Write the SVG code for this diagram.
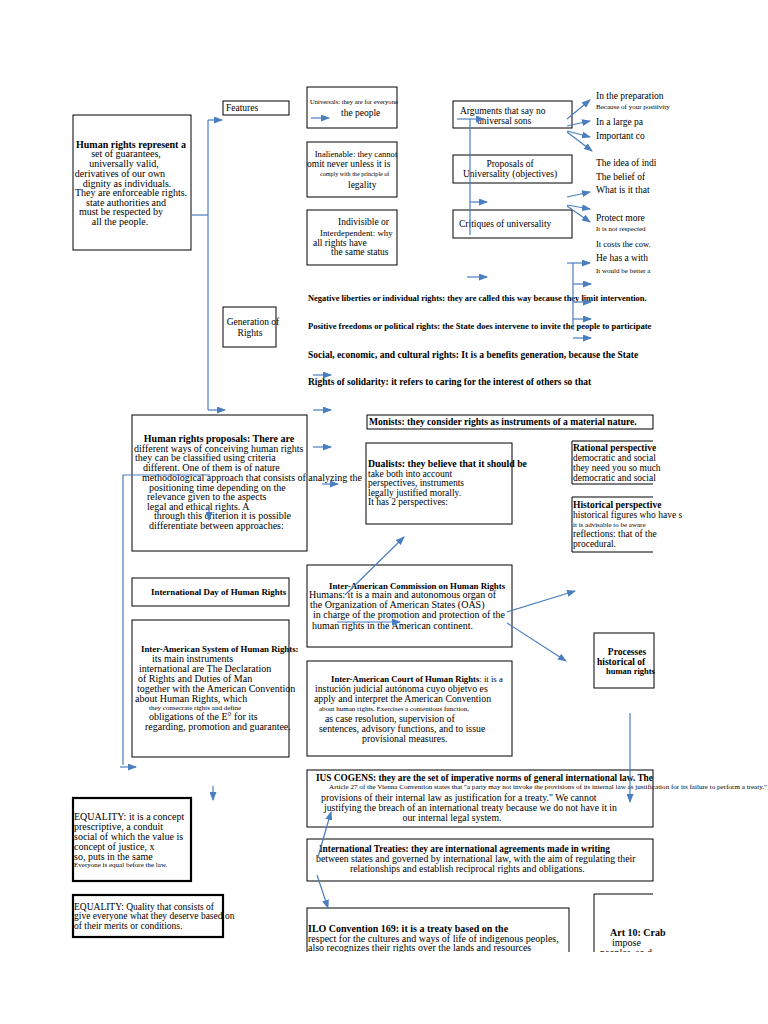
<svg xmlns="http://www.w3.org/2000/svg" width="768" height="1024" viewBox="0 0 768 1024">
<defs>
<marker id="ah" markerWidth="9" markerHeight="7" refX="8" refY="3.5" orient="auto" markerUnits="userSpaceOnUse">
<path d="M0,0 L9,3.5 L0,7 z" fill="#4a7ebf"/>
</marker>
<clipPath id="page"><rect x="0" y="0" width="768" height="952"/></clipPath>
</defs>
<style>
text{font-family:"Liberation Serif","Times New Roman",serif;fill:#000;font-size:9.5px}
.L text{font-size:10px}
.b{font-weight:bold}
.s{font-size:7px}
.L .s{font-size:7px}
.xs{font-size:5.5px}
.m{text-anchor:middle}
.box{fill:#fff;stroke:#000;stroke-width:1}
.thick{fill:#fff;stroke:#000;stroke-width:2.2}
.c{stroke:#4a7ebf;stroke-width:1.2;fill:none}
.a{stroke:#4a7ebf;stroke-width:1.2;fill:none;marker-end:url(#ah)}
</style>
<rect width="768" height="1024" fill="#fff"/>

<g id="n-main" class="L">
<rect class="box" x="73" y="115" width="118" height="135"/>
<text class="b m" x="131" y="148">Human rights represent a</text>
<text class="m" x="126" y="157">set of guarantees,</text>
<text class="m" x="124" y="167">universally valid,</text>
<text class="m" x="120" y="177">derivatives of our own</text>
<text class="m" x="127" y="187">dignity as individuals.</text>
<text class="m" x="131" y="196">They are enforceable rights.</text>
<text class="m" x="126" y="206">state authorities and</text>
<text class="m" x="121" y="215">must be respected by</text>
<text class="m" x="120" y="225">all the people.</text>
</g>

<g id="n-features">
<rect class="box" x="223" y="101" width="66" height="14"/>
<text x="226" y="111">Features</text>
</g>

<g id="n-universals">
<rect class="box" x="307" y="87" width="90" height="41"/>
<text style="font-size:6.6px" x="310" y="104">Universals: they are for everyone</text>
<text x="341" y="116">the people</text>
</g>

<g id="n-inalienable">
<rect class="box" x="307" y="142" width="90" height="55"/>
<text class="m" style="font-size:8.6px" x="356" y="157">Inalienable: they cannot</text>
<text x="307" y="167">omit never unless it is</text>
<text style="font-size:6.1px" x="320" y="176">comply with the principle of</text>
<text x="348" y="188">legality</text>
</g>

<g id="n-indivisible">
<rect class="box" x="307" y="210" width="90" height="55"/>
<text x="338" y="225">Indivisible or</text>
<text style="font-size:8.8px" x="320" y="236">Interdependent: why</text>
<text x="313" y="246">all rights have</text>
<text x="331" y="255">the same status</text>
</g>

<g id="n-arguments">
<rect class="box" x="453" y="101" width="119" height="27"/>
<text x="460" y="114">Arguments that say no</text>
<text x="477" y="124">universal sons</text>
</g>

<g id="n-proposals-univ">
<rect class="box" x="453" y="155" width="119" height="28"/>
<text class="m" x="510" y="167">Proposals of</text>
<text class="m" x="510" y="177">Universality (objectives)</text>
</g>

<g id="n-critiques">
<rect class="box" x="453" y="210" width="119" height="28"/>
<text x="459" y="227">Critiques of universality</text>
</g>

<g id="n-right-texts">
<text x="596" y="99">In the preparation</text>
<text class="s" x="596" y="109">Because of your positivity</text>
<text x="596" y="125">In a large pa</text>
<text x="596" y="139">Important co</text>
<text x="596" y="166">The idea of indi</text>
<text x="596" y="180">The belief of</text>
<text x="596" y="193">What is it that</text>
<text x="596" y="221">Protect more</text>
<text class="s" x="596" y="231">It is not respected</text>
<text style="font-size:8.5px" x="596" y="247">It costs the cow.</text>
<text x="596" y="261">He has a with</text>
<text class="s" x="596" y="273">It would be better a</text>
</g>

<g id="n-generation">
<rect class="box" x="223" y="307" width="53" height="40"/>
<text class="m" x="253" y="325">Generation of</text>
<text class="m" x="250" y="336">Rights</text>
</g>

<g id="n-generation-texts">
<text class="b" style="font-size:8.45px" x="308" y="301">Negative liberties or individual rights: they are called this way because they limit intervention.</text>
<text class="b" style="font-size:8.55px" x="308" y="329">Positive freedoms or political rights: the State does intervene to invite the people to participate</text>
<text class="b" style="font-size:9.5px" x="308" y="358">Social, economic, and cultural rights: It is a benefits generation, because the State</text>
<text class="b" style="font-size:9.5px" x="308" y="385">Rights of solidarity: it refers to caring for the interest of others so that</text>
</g>

<g id="n-hr-proposals" class="L">
<rect class="box" x="132" y="415" width="175" height="136"/>
<text class="b m" x="219" y="442">Human rights proposals: There are</text>
<text x="134" y="452">different ways of conceiving human rights</text>
<text x="135" y="461">they can be classified using criteria</text>
<text x="143" y="471">different. One of them is of nature</text>
<text x="142" y="481">methodological approach that consists of analyzing the</text>
<text x="149" y="491">positioning time depending on the</text>
<text x="147" y="500">relevance given to the aspects</text>
<text x="147" y="510">legal and ethical rights. A</text>
<text x="154" y="519">through this criterion it is possible</text>
<text x="149" y="529">differentiate between approaches:</text>
</g>

<g id="n-monists">
<rect class="box" x="367" y="415" width="286" height="14"/>
<text class="b" style="font-size:9.6px" x="369" y="425">Monists: they consider rights as instruments of a material nature.</text>
</g>

<g id="n-dualists">
<rect class="box" x="366" y="443" width="146" height="81"/>
<text class="b" style="font-size:9.8px" x="368" y="467">Dualists: they believe that it should be</text>
<text x="368" y="477">take both into account</text>
<text x="368" y="486">perspectives, instruments</text>
<text x="368" y="496">legally justified morally.</text>
<text x="368" y="505">It has 2 perspectives:</text>
</g>

<g id="n-rational">
<path class="box" d="M653,441 H572 V484 H653"/>
<text class="b" x="573" y="451">Rational perspective</text>
<text x="573" y="461">democratic and social</text>
<text x="573" y="471">they need you so much</text>
<text x="573" y="481">democratic and social</text>
</g>

<g id="n-historical">
<path class="box" d="M653,497 H572 V552 H653"/>
<text class="b" x="573" y="508">Historical perspective</text>
<text x="573" y="518">historical figures who have s</text>
<text class="s" x="573" y="527">it is advisable to be aware</text>
<text x="573" y="537">reflections: that of the</text>
<text x="573" y="547">procedural.</text>
</g>

<g id="n-intl-day">
<rect class="box" x="132" y="578" width="157" height="28"/>
<text class="b" style="font-size:8.9px" x="151" y="595">International Day of Human Rights</text>
</g>

<g id="n-ia-system" class="L">
<rect class="box" x="132" y="620" width="157" height="137"/>
<text class="b" style="font-size:8.8px" x="141" y="652">Inter-American System of Human Rights:</text>
<text x="152" y="662">its main instruments</text>
<text x="139" y="672">international are The Declaration</text>
<text x="138" y="682">of Rights and Duties of Man</text>
<text x="137" y="692">together with the American Convention</text>
<text x="135" y="702">about Human Rights, which</text>
<text class="s" x="149" y="710">they consecrate rights and define</text>
<text x="149" y="720">obligations of the E° for its</text>
<text x="145" y="730">regarding, promotion and guarantee.</text>
</g>

<g id="n-commission" class="L">
<rect class="box" x="307" y="565" width="205" height="82"/>
<text class="b" style="font-size:8.8px" x="329" y="589">Inter-American Commission on Human Rights</text>
<text x="309" y="598">Humans: it is a main and autonomous organ of</text>
<text x="310" y="608">the Organization of American States (OAS)</text>
<text x="313" y="618">in charge of the promotion and protection of the</text>
<text x="312" y="629">human rights in the American continent.</text>
</g>

<g id="n-processes">
<rect class="box" x="594" y="633" width="60" height="55"/>
<text class="b m" x="627" y="655">Processes</text>
<text class="b" x="597" y="665">historical of</text>
<text class="b" style="font-size:8.5px" x="606" y="674">human rights</text>
</g>

<g id="n-court">
<rect class="box" x="307" y="661" width="205" height="95"/>
<text style="font-size:8.7px" x="331" y="682"><tspan class="b">Inter-American Court of Human Rights</tspan>: it is a</text>
<text style="font-size:9.8px" x="315" y="692">instución judicial autónoma cuyo objetvo es</text>
<text style="font-size:9.8px" x="314" y="702">apply and interpret the American Convention</text>
<text class="s" x="319" y="711">about human rights. Exercises a contentious function,</text>
<text style="font-size:9.8px" x="325" y="722">as case resolution, supervision of</text>
<text style="font-size:9.8px" x="319" y="732">sentences, advisory functions, and to issue</text>
<text style="font-size:9.8px" x="362" y="742">provisional measures.</text>
</g>

<g id="n-ius-cogens">
<rect class="box" x="307" y="770" width="346" height="57"/>
<text class="b" style="font-size:9.3px" x="316" y="781">IUS COGENS: they are the set of imperative norms of general international law. The</text>
<text class="xs" x="329" y="789" textLength="438" lengthAdjust="spacingAndGlyphs">Article 27 of the Vienna Convention states that "a party may not invoke the provisions of its internal law as justification for its failure to perform a treaty."</text>
<text style="font-size:9.8px" x="321" y="801">provisions of their internal law as justification for a treaty." We cannot</text>
<text style="font-size:9.8px" x="324" y="811">justifying the breach of an international treaty because we do not have it in</text>
<text class="m" style="font-size:9.8px" x="452" y="821">our internal legal system.</text>
</g>

<g id="n-treaties">
<rect class="box" x="307" y="839" width="346" height="42"/>
<text class="b" style="font-size:9.3px" x="319" y="852">International Treaties: they are international agreements made in writing</text>
<text style="font-size:9.8px" x="316" y="862">between states and governed by international law, with the aim of regulating their</text>
<text style="font-size:9.8px" x="350" y="872">relationships and establish reciprocal rights and obligations.</text>
</g>

<g id="n-ilo" class="L" clip-path="url(#page)">
<rect class="box" x="307" y="908" width="262" height="60"/>
<text class="b" x="308" y="932">ILO Convention 169: it is a treaty based on the</text>
<text x="308" y="942">respect for the cultures and ways of life of indigenous peoples,</text>
<text x="308" y="951">also recognizes their rights over the lands and resources</text>
</g>

<g id="n-art10" class="L" clip-path="url(#page)">
<path class="box" d="M653,894 H594 V970"/>
<text class="b" x="610" y="936">Art 10: Crab</text>
<text x="612" y="946">impose</text>
<text x="600" y="956">peoples, so d</text>
</g>

<g id="n-equality1" class="L">
<rect class="thick" x="73" y="798" width="118" height="83"/>
<text x="74" y="820">EQUALITY: it is a concept</text>
<text x="74" y="830">prescriptive, a conduit</text>
<text x="74" y="840">social of which the value is</text>
<text x="74" y="850">concept of justice, x</text>
<text x="74" y="860">so, puts in the same</text>
<text class="s" x="74" y="867">Everyone is equal before the law.</text>
</g>

<g id="n-equality2">
<rect class="thick" x="73" y="895" width="150" height="42"/>
<text x="74" y="910">EQUALITY: Quality that consists of</text>
<text x="74" y="919">give everyone what they deserve based on</text>
<text x="74" y="929">of their merits or conditions.</text>
</g>

<g id="connectors">
<path class="c" d="M191,215 H208"/>
<path class="c" d="M208,120 V410"/>
<path class="a" d="M208,120 H222"/>
<path class="a" d="M208,410 H225"/>
<path class="a" d="M311,118 H329"/>
<path class="a" d="M457,119 H484"/>
<path class="c" d="M470,119 V235"/>
<path class="a" d="M470,202 H487"/>
<path class="a" d="M567,119 L590,100"/>
<path class="a" d="M567,126 L590,121"/>
<path class="a" d="M567,131 L590,137"/>
<path class="a" d="M567,132 L592,151"/>
<path class="a" d="M567,197 L590,192"/>
<path class="a" d="M567,205 L590,209"/>
<path class="a" d="M567,206 L590,222"/>
<path class="a" d="M567,263 H590"/>
<path class="c" d="M573,263 V330"/>
<path class="a" d="M573,284 H591"/>
<path class="a" d="M573,302 H591"/>
<path class="a" d="M573,319 H591"/>
<path class="a" d="M573,338 H591"/>
<path class="a" d="M467,277 H487"/>
<path class="a" d="M313,375 H331"/>
<path class="a" d="M313,410 H331"/>
<path class="a" d="M313,447 H331"/>
<path class="a" d="M322,484 H338"/>
<path class="a" d="M209,505 V520"/>
<path class="c" d="M210,475 H123 V765"/>
<path class="a" d="M120,767 H136"/>
<path class="a" d="M345,595 L404,537"/>
<path class="a" d="M337,622 H400"/>
<path class="a" d="M507,612 L575,591"/>
<path class="a" d="M507,623 L566,661"/>
<path class="a" d="M630,713 V802"/>
<path class="a" d="M213,786 V800"/>
<path class="a" d="M318,857 L331,812"/>
<path class="a" d="M317,875 L328,908"/>
</g>
</svg>
